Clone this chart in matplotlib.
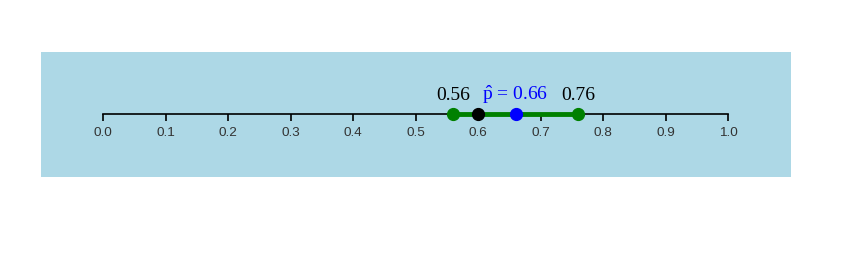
import matplotlib
matplotlib.use('Agg')
import matplotlib.pyplot as plt

# данные
ci_low = 0.56
ci_high = 0.76
p_hat = 0.66
p_null = 0.6
ticks = [0.0, 0.1, 0.2, 0.3, 0.4, 0.5, 0.6, 0.7, 0.8, 0.9, 1.0]
tick_labels = ['0.0', '0.1', '0.2', '0.3', '0.4', '0.5', '0.6', '0.7', '0.8', '0.9', '1.0']

plt.rcParams['mathtext.fontset'] = 'custom'
plt.rcParams['mathtext.rm'] = 'Liberation Serif'

W, H = 859, 279
fig = plt.figure(figsize=(W / 100, H / 100), dpi=100)

# голубой фон
bg = fig.add_axes([41 / W, (H - 177) / H, 750 / W, 125 / H], zorder=0)
bg.set_facecolor('#ADD8E6')
bg.set_xticks([])
bg.set_yticks([])
for s in bg.spines.values():
    s.set_visible(False)

ax = fig.add_axes([103 / W, (H - 177) / H, 625 / W, 125 / H], zorder=1)
ax.patch.set_visible(False)
ax.set_xlim(0, 1)
ax.set_ylim(-63, 62)
for s in ['top', 'left', 'right']:
    ax.spines[s].set_visible(False)
ax.spines['bottom'].set_position(('data', 0))
ax.spines['bottom'].set_linewidth(1.2)
ax.set_yticks([])
ax.set_xticks(ticks)
ax.set_xticklabels(tick_labels, fontfamily='Liberation Sans', fontsize=9.7, color='#333333')
ax.tick_params(axis='x', length=5, width=1.2, pad=4.2)

# интервал
ax.plot([ci_low, ci_high], [0, 0], color='#008000', lw=3.5, solid_capstyle='butt', zorder=3)
ax.plot([ci_low, ci_high], [0, 0], 'o', color='#008000', ms=8.5, zorder=4)
ax.plot([p_null], [0], 'o', color='black', ms=8.5, zorder=5)
ax.plot([p_hat], [0], 'o', color='blue', ms=8.5, zorder=6)

ax.text(ci_low, 19, '%.2f' % ci_low, ha='center', va='center',
        fontfamily='Liberation Serif', fontsize=14, color='black')
ax.text(ci_high, 19, '%.2f' % ci_high, ha='center', va='center',
        fontfamily='Liberation Serif', fontsize=14, color='black')
ax.text(p_hat, 19, r'$\hat{\mathrm{p}}$ = %.2f' % p_hat, ha='center', va='center',
        fontfamily='Liberation Serif', fontsize=14, color='blue')

fig.savefig('out.png', dpi=100)
